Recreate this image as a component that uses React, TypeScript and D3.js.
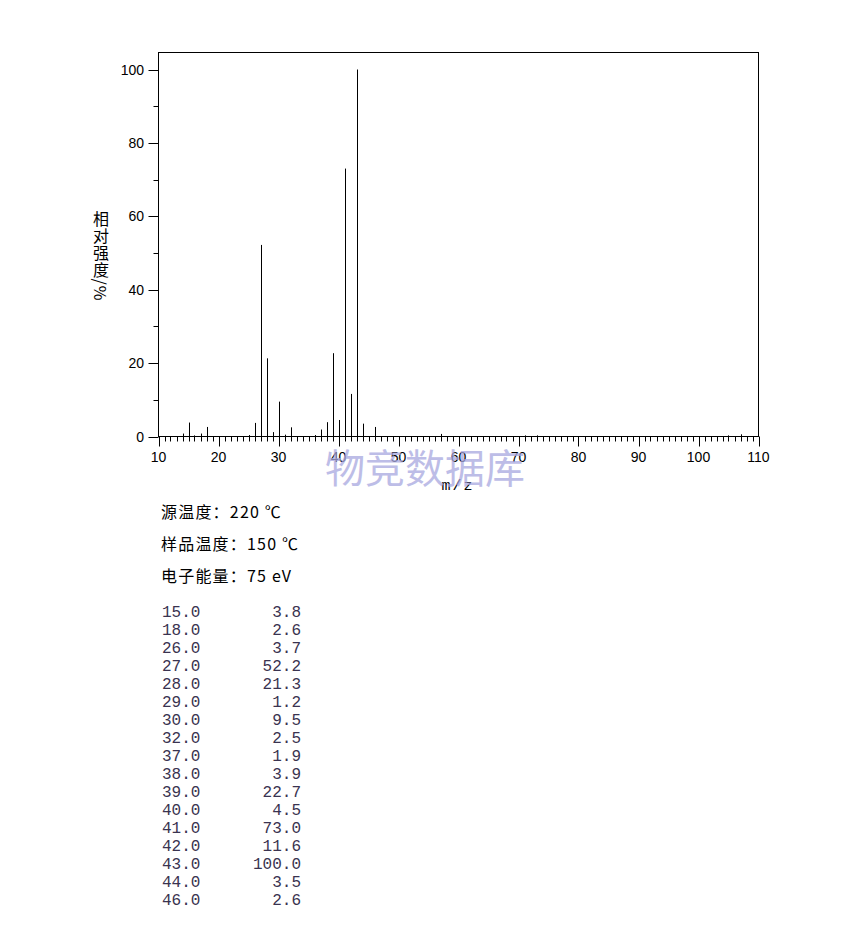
import * as d3 from "d3";

// peaks (m/z, relative intensity %)
const mzValues = [14, 15, 16, 17, 18, 25, 26, 27, 28, 29, 30, 31, 32, 36, 37, 38, 39, 40, 41, 42, 43, 44, 46, 57, 71, 73, 105, 107];
const intensities = [0.8, 3.8, 0.3, 0.8, 2.6, 0.4, 3.7, 52.2, 21.3, 1.2, 9.5, 0.5, 2.5, 0.4, 1.9, 3.9, 22.7, 4.5, 73.0, 11.6, 100.0, 3.5, 2.6, 0.7, 0.3, 0.3, 0.3, 0.6];

// listed table
const tableMz = ["15.0", "18.0", "26.0", "27.0", "28.0", "29.0", "30.0", "32.0", "37.0", "38.0", "39.0", "40.0", "41.0", "42.0", "43.0", "44.0", "46.0"];
const tableIntensity = ["3.8", "2.6", "3.7", "52.2", "21.3", "1.2", "9.5", "2.5", "1.9", "3.9", "22.7", "4.5", "73.0", "11.6", "100.0", "3.5", "2.6"];

const xTicks = d3.range(10, 111, 10);
const yTicks = d3.range(0, 101, 20);
const conditions = ["源温度：220 ℃", "样品温度：150 ℃", "电子能量：75 eV"];

const W = 850;
const H = 935;
const left = 158.5;
const right = 758.5;
const top = 52.5;
const bottom = 436.5;

export default function App() {
  const x = d3.scaleLinear().domain([10, 110]).range([left, right]);
  const y = d3.scaleLinear().domain([0, 100]).range([bottom, 69.5]);

  const minorX = d3.range(10, 111, 1).filter((v) => v % 10 !== 0);
  const minorY = d3.range(10, 101, 20);
  const axisFont = "'Liberation Sans', Arial, sans-serif";

  return (
    <svg
      width={W}
      height={H}
      style={{ position: "absolute", left: 0, top: 0, background: "#fff" }}
    >
      {/* frame */}
      <rect x={left} y={top} width={right - left} height={bottom - top} fill="none" stroke="#000" strokeWidth={1} />

      {/* x axis ticks */}
      <g stroke="#000" strokeWidth={1}>
        {minorX.map((v) => (
          <line key={"mx" + v} x1={Math.round(x(v)) + 0.5} x2={Math.round(x(v)) + 0.5} y1={bottom} y2={bottom + 5} />
        ))}
        {xTicks.map((v) => (
          <line key={"x" + v} x1={Math.round(x(v)) + 0.5} x2={Math.round(x(v)) + 0.5} y1={bottom} y2={bottom + 10} />
        ))}
      </g>
      <g fontFamily={axisFont} fontSize={14} fill="#000" textAnchor="middle">
        {xTicks.map((v) => (
          <text key={"xl" + v} x={x(v)} y={462}>
            {v}
          </text>
        ))}
      </g>
      <text x={458} y={490} fontFamily="'Liberation Mono', monospace" fontSize={15} letterSpacing={2} textAnchor="middle">
        m/z
      </text>

      {/* y axis ticks */}
      <g stroke="#000" strokeWidth={1}>
        {yTicks.map((v) => (
          <line key={"y" + v} x1={left - 10} x2={left} y1={Math.round(y(v)) + 0.5} y2={Math.round(y(v)) + 0.5} />
        ))}
        {minorY.map((v) => (
          <line key={"my" + v} x1={left - 5} x2={left} y1={Math.round(y(v)) + 0.5} y2={Math.round(y(v)) + 0.5} />
        ))}
      </g>
      <g fontFamily={axisFont} fontSize={14} fill="#000" textAnchor="end">
        {yTicks.map((v) => (
          <text key={"yl" + v} x={144} y={y(v) + 5}>
            {v}
          </text>
        ))}
      </g>
      <text
        x={101}
        y={256}
        fontFamily="'Noto Sans CJK SC', sans-serif"
        fontSize={16}
        letterSpacing={1}
        textAnchor="middle"
        style={{ writingMode: "vertical-rl" }}
      >
        相对强度/%
      </text>

      {/* spectrum sticks */}
      <g stroke="#000" strokeWidth={1}>
        {mzValues.map((m, i) => (
          <line
            key={"p" + m}
            x1={Math.round(x(m)) + 0.5}
            x2={Math.round(x(m)) + 0.5}
            y1={bottom}
            y2={y(intensities[i])}
          />
        ))}
      </g>

      {/* watermark */}
      <text
        x={425}
        y={483}
        fontFamily="'Noto Sans CJK SC', sans-serif"
        fontSize={40}
        fill="#a8a8e0"
        opacity={0.75}
        textAnchor="middle"
      >
        物竞数据库
      </text>

      {/* conditions */}
      <g fontFamily="'Noto Sans CJK SC', serif" fontSize={16} fill="#000" letterSpacing={1.2}>
        {conditions.map((c, i) => (
          <text key={c} x={161} y={518 + i * 32}>
            {c}
          </text>
        ))}
      </g>

      {/* peak table */}
      <g fontFamily="'Liberation Mono', 'Courier New', monospace" fontSize={16} fill="#3a3350">
        {tableMz.map((m, i) => (
          <g key={"t" + i}>
            <text x={162} y={617 + i * 18}>
              {m}
            </text>
            <text x={301} y={617 + i * 18} textAnchor="end">
              {tableIntensity[i]}
            </text>
          </g>
        ))}
      </g>
    </svg>
  );
}
